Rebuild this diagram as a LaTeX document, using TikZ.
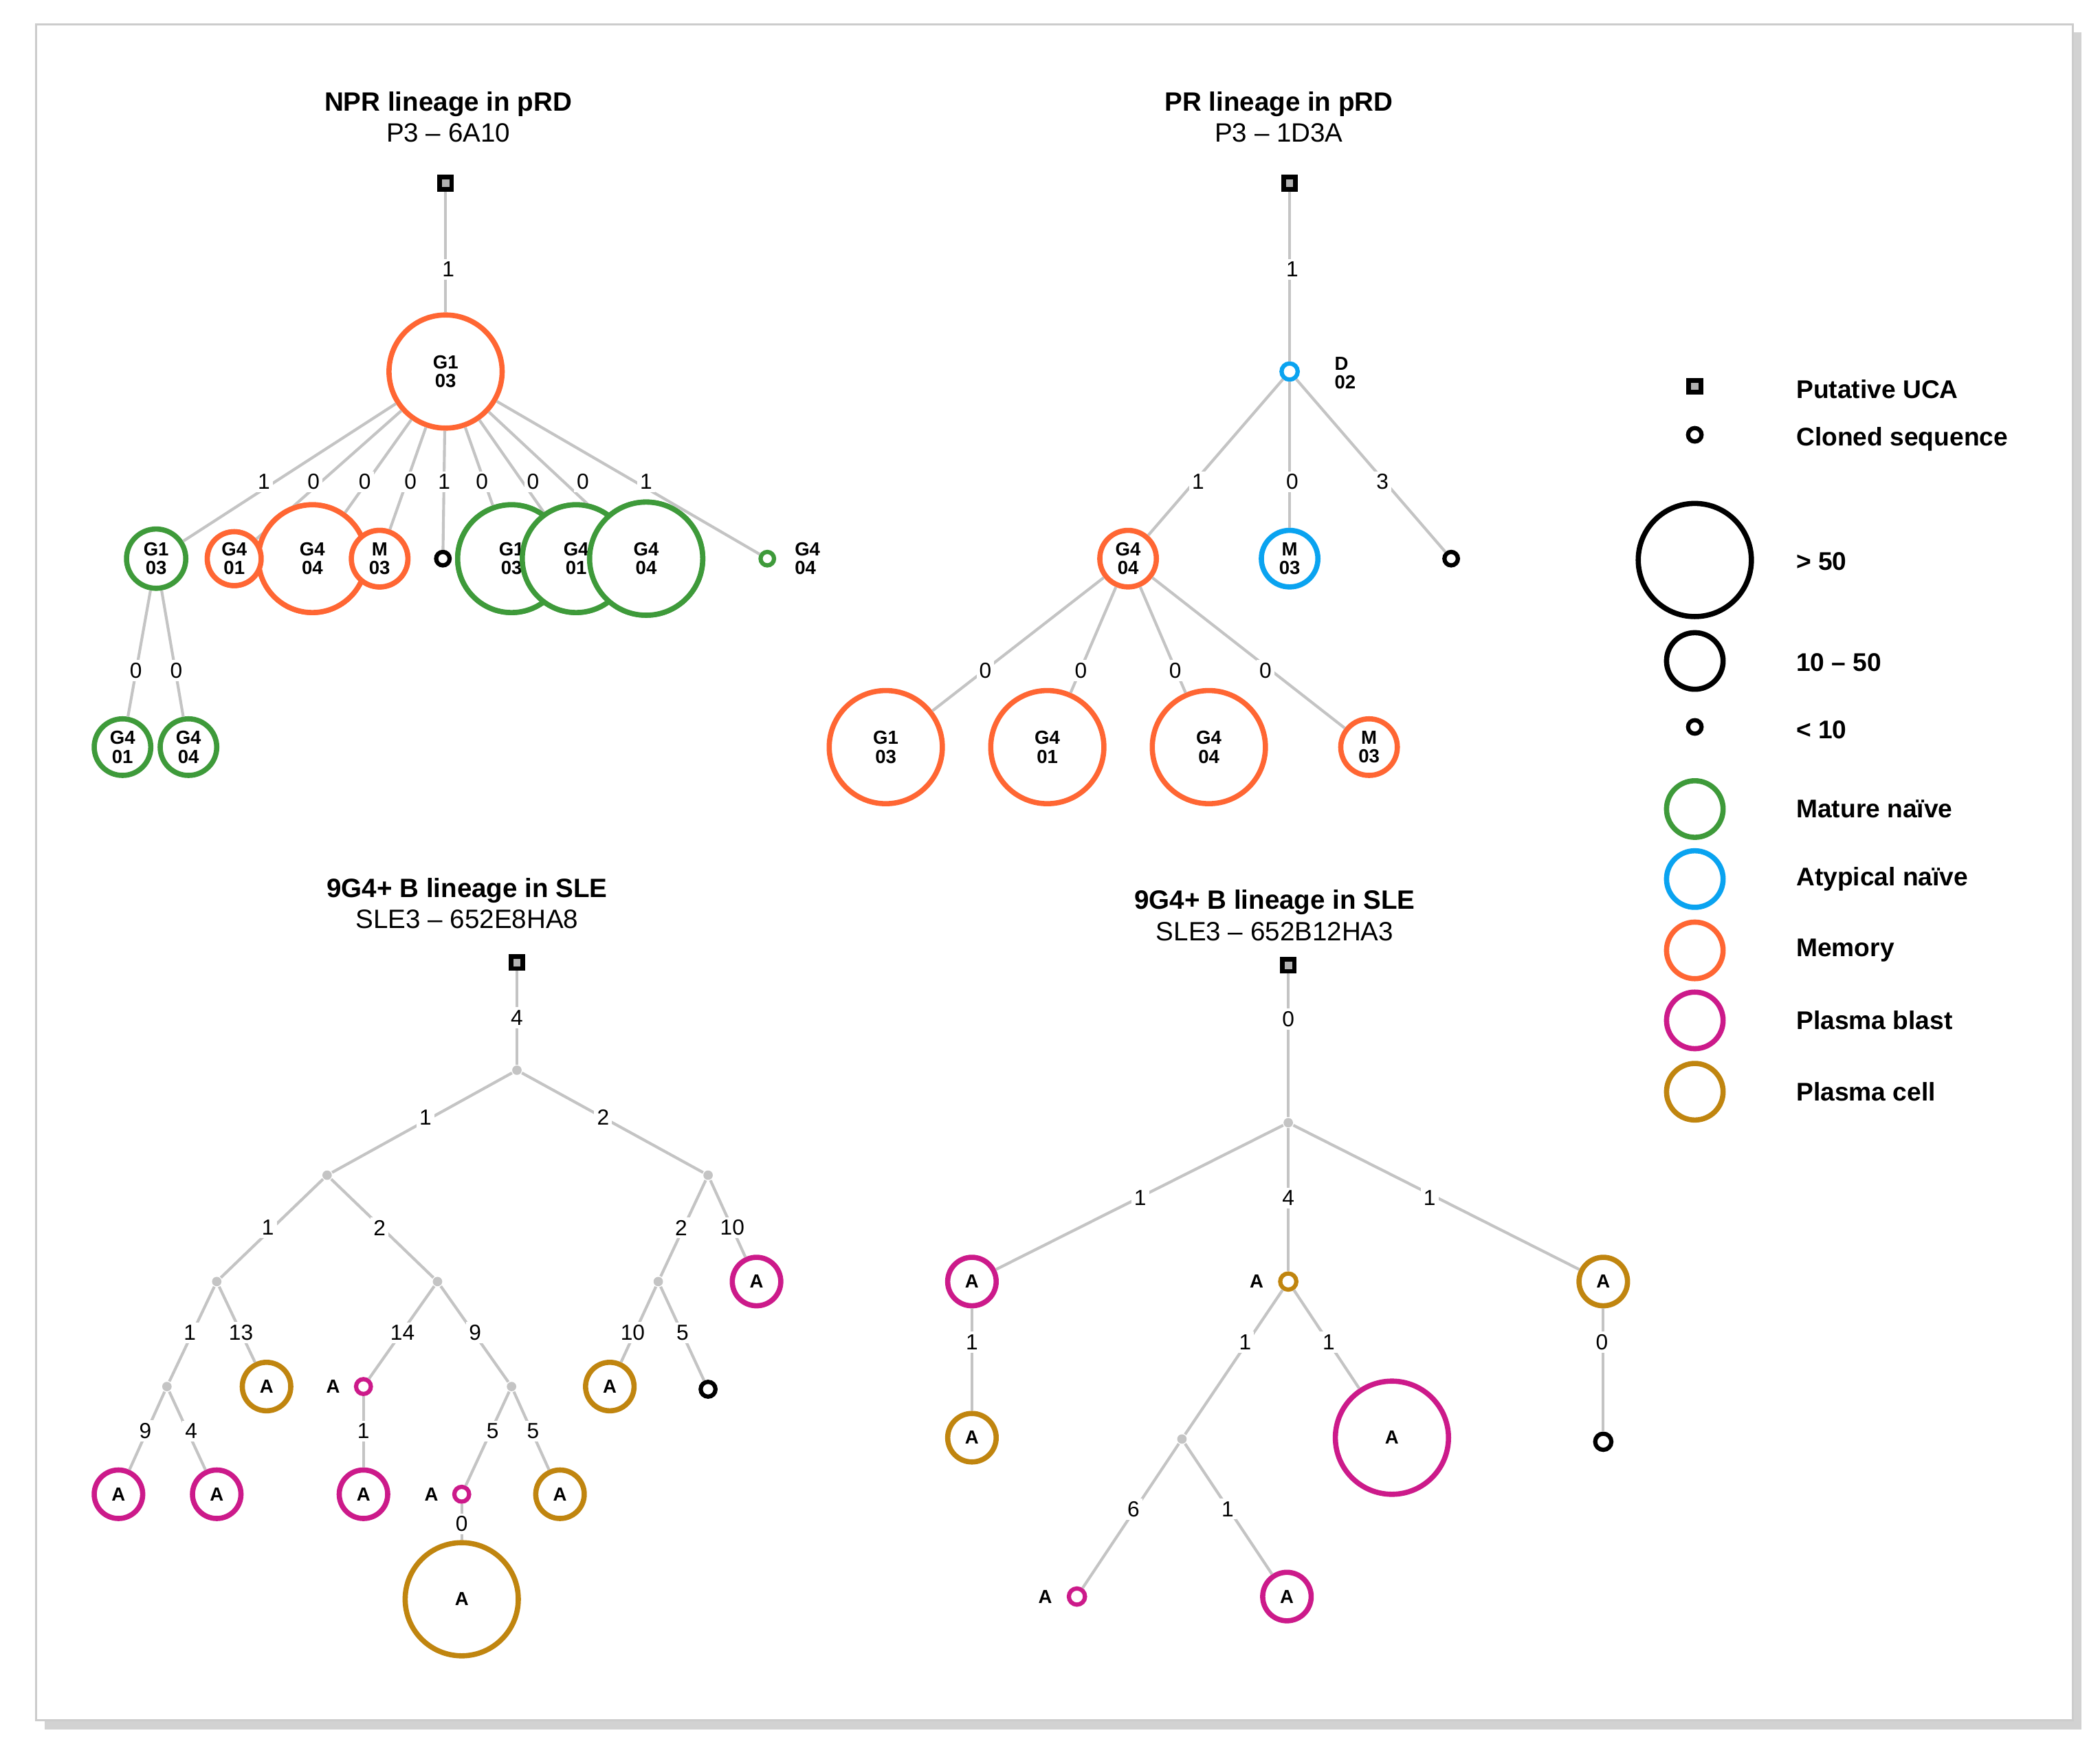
\documentclass[tikz,border=0pt]{standalone}
\usepackage{fontspec}
\setmainfont{Liberation Sans}
\begin{document}
\definecolor{cg}{HTML}{3E9A3A}
\definecolor{cb}{HTML}{0AA3F0}
\definecolor{co}{HTML}{FF6633}
\definecolor{cm}{HTML}{CC1A8A}
\definecolor{cy}{HTML}{C0850F}
\definecolor{ce}{HTML}{C4C4C4}
\begin{tikzpicture}[x=0.01cm,y=-0.01cm,
 cir/.style={circle,draw=#1,line width=1.1pt,fill=white,inner sep=0pt,align=center,font=\fontsize{4}{4}\selectfont\bfseries},
 sm/.style={circle,draw=#1,line width=0.9pt,fill=white,inner sep=0pt,minimum size=0.1cm},
 sq/.style={rectangle,draw=black,line width=1pt,fill=gray!60,inner sep=0pt,minimum size=0.09cm},
 jn/.style={circle,fill=ce,inner sep=0pt,minimum size=0.07cm},
 ed/.style={draw=ce,line width=0.6pt},
 el/.style={fill=white,inner sep=0.6pt,font=\fontsize{4.6}{5}\selectfont},
 ttl/.style={align=center,font=\fontsize{5.6}{6.6}\selectfont},
 lg/.style={anchor=west,font=\fontsize{5.4}{6}\selectfont\bfseries},
 sl/.style={font=\fontsize{4}{4}\selectfont\bfseries}]
\useasboundingbox (0,0) rectangle (1560,1297);
\fill[gray!35] (33,24) rectangle (1546,1285);
\fill[white,draw=gray!40] (27,18) rectangle (1540,1278);
% titles
\node[ttl] (t1) at (333,87) {\textbf{NPR lineage in pRD}\\P3 -- 6A10};
\node[ttl] (t2) at (950,87) {\textbf{PR lineage in pRD}\\P3 -- 1D3A};
\node[ttl] (t3) at (347,671) {\textbf{9G4+ B lineage in SLE}\\SLE3 -- 652E8HA8};
\node[ttl] (t4) at (947,680) {\textbf{9G4+ B lineage in SLE}\\SLE3 -- 652B12HA3};
% ---------- tree 1
\node[sq] (r1) at (331,136) {};
\node[cir=co,minimum size=0.84cm] (a0) at (331,276) {G1\\03};
\node[cir=cg,minimum size=0.44cm] (a1) at (116,415) {G1\\03};
\node[cir=co,minimum size=0.40cm] (a2) at (174,415) {G4\\01};
\node[cir=co,minimum size=0.80cm] (a3) at (232,415) {G4\\04};
\node[cir=co,minimum size=0.42cm] (a4) at (282,415) {M\\03};
\node[sm=black] (a5) at (329,415) {};
\node[cir=cg,minimum size=0.80cm] (a6) at (380,415) {G1\\03};
\node[cir=cg,minimum size=0.80cm] (a7) at (428,415) {G4\\01};
\node[cir=cg,minimum size=0.84cm] (a8) at (480,415) {G4\\04};
\node[sm=cg] (a9) at (570,415) {};
\node[sl,align=left,anchor=west] (a9l) at (578,415) {G4\\04};
\node[cir=cg,minimum size=0.42cm] (a10) at (91,555) {G4\\01};
\node[cir=cg,minimum size=0.42cm] (a11) at (140,555) {G4\\04};
\draw[ed] (r1)--(a0);
\foreach \n in {a1,a2,a3,a4,a5,a6,a7,a8,a9} \draw[ed] (a0)--(\n);
\draw[ed] (a1)--(a10); \draw[ed] (a1)--(a11);
% redraw circles over edges
\node[cir=co,minimum size=0.80cm] at (232,415) {G4\\04};
\node[cir=co,minimum size=0.42cm] at (282,415) {M\\03};
\node[cir=co,minimum size=0.40cm] at (174,415) {G4\\01};
\node[cir=cg,minimum size=0.80cm] at (380,415) {G1\\03};
\node[cir=cg,minimum size=0.80cm] at (428,415) {G4\\01};
\node[cir=cg,minimum size=0.84cm] at (480,415) {G4\\04};
\node[el] (l1) at (333,200) {1};
\foreach \x/\t in {196/1,233/0,271/0,305/0,330/1,358/0,396/0,433/0,480/1} \node[el] at (\x,358) {\t};
\node[el] at (101,498) {0}; \node[el] at (131,498) {0};
% ---------- tree 2
\node[sq] (r2) at (958,136) {};
\node[sm=cb,minimum size=0.12cm] (b0) at (958,276) {};
\node[sl,align=left,anchor=west] (b0l) at (979,277) {D\\02};
\node[cir=co,minimum size=0.42cm] (b1) at (838,415) {G4\\04};
\node[cir=cb,minimum size=0.42cm] (b2) at (958,415) {M\\03};
\node[sm=black] (b3) at (1078,415) {};
\node[cir=co,minimum size=0.84cm] (b4) at (658,555) {G1\\03};
\node[cir=co,minimum size=0.84cm] (b5) at (778,555) {G4\\01};
\node[cir=co,minimum size=0.84cm] (b6) at (898,555) {G4\\04};
\node[cir=co,minimum size=0.42cm] (b7) at (1017,555) {M\\03};
\draw[ed] (r2)--(b0);
\foreach \n in {b1,b2,b3} \draw[ed] (b0)--(\n);
\foreach \n in {b4,b5,b6,b7} \draw[ed] (b1)--(\n);
\node[el] at (960,200) {1};
\node[el] at (890,358) {1}; \node[el] at (960,358) {0}; \node[el] at (1027,358) {3};
\foreach \x in {732,803,873,940} \node[el] at (\x,498) {0};
% ---------- tree 3
\node[sq] (r3) at (384,715) {};
\node[jn] (c1) at (384,795) {};
\node[jn] (c2) at (243,873) {};
\node[jn] (c3) at (526,873) {};
\node[jn] (c4) at (161,952) {};
\node[jn] (c5) at (325,952) {};
\node[jn] (c6) at (124,1030) {};
\node[cir=cy,minimum size=0.36cm] (c7) at (198,1030) {A};
\node[cir=cm,minimum size=0.36cm] (c8) at (88,1110) {A};
\node[cir=cm,minimum size=0.36cm] (c9) at (161,1110) {A};
\node[sm=cm,minimum size=0.11cm] (c10) at (270,1030) {};
\node[sl,anchor=east] (c10l) at (265,1030) {A};
\node[jn] (c11) at (380,1030) {};
\node[cir=cm,minimum size=0.36cm] (c12) at (270,1110) {A};
\node[sm=cm,minimum size=0.11cm] (c13) at (343,1110) {};
\node[sl,anchor=east] (c13l) at (338,1110) {A};
\node[cir=cy,minimum size=0.36cm] (c14) at (416,1110) {A};
\node[cir=cy,minimum size=0.84cm] (c15) at (343,1188) {A};
\node[jn] (c16) at (489,952) {};
\node[cir=cm,minimum size=0.36cm] (c17) at (562,952) {A};
\node[cir=cy,minimum size=0.36cm] (c18) at (453,1030) {A};
\node[sm=black,minimum size=0.11cm] (c19) at (526,1032) {};
\draw[ed] (r3)--(c1); \draw[ed] (c1)--(c2); \draw[ed] (c1)--(c3);
\draw[ed] (c2)--(c4); \draw[ed] (c2)--(c5); \draw[ed] (c4)--(c6); \draw[ed] (c4)--(c7);
\draw[ed] (c6)--(c8); \draw[ed] (c6)--(c9); \draw[ed] (c5)--(c10); \draw[ed] (c5)--(c11);
\draw[ed] (c10)--(c12); \draw[ed] (c11)--(c13); \draw[ed] (c11)--(c14); \draw[ed] (c13)--(c15);
\draw[ed] (c3)--(c16); \draw[ed] (c3)--(c17); \draw[ed] (c16)--(c18); \draw[ed] (c16)--(c19);
\foreach \x/\y/\t in {384/756/4,316/830/1,448/830/2,199/912/1,282/912/2,141/990/1,179/990/13,108/1063/9,142/1063/4,299/990/14,353/990/9,270/1063/1,366/1063/5,396/1063/5,343/1132/0,506/912/2,544/912/10,470/990/10,507/990/5}
  \node[el] at (\x,\y) {\t};
% ---------- tree 4
\node[sq] (r4) at (957,717) {};
\node[jn] (d1) at (957,834) {};
\node[cir=cm,minimum size=0.36cm] (d2) at (722,952) {A};
\node[sm=cy,minimum size=0.12cm] (d3) at (957,952) {};
\node[sl,anchor=east] (d3l) at (951,952) {A};
\node[cir=cy,minimum size=0.36cm] (d4) at (1191,952) {A};
\node[cir=cy,minimum size=0.36cm] (d5) at (722,1068) {A};
\node[jn] (d6) at (878,1069) {};
\node[cir=cm,minimum size=0.84cm] (d7) at (1034,1068) {A};
\node[sm=cm,minimum size=0.12cm] (d8) at (800,1186) {};
\node[sl,anchor=east] (d8l) at (794,1186) {A};
\node[cir=cm,minimum size=0.36cm] (d9) at (956,1186) {A};
\node[sm=black,minimum size=0.12cm] (d10) at (1191,1071) {};
\draw[ed] (r4)--(d1); \draw[ed] (d1)--(d2); \draw[ed] (d1)--(d3); \draw[ed] (d1)--(d4);
\draw[ed] (d2)--(d5); \draw[ed] (d3)--(d6); \draw[ed] (d3)--(d7); \draw[ed] (d6)--(d8); \draw[ed] (d6)--(d9); \draw[ed] (d4)--(d10);
\foreach \x/\y/\t in {957/757/0,847/890/1,957/890/4,1062/890/1,722/997/1,925/997/1,987/997/1,842/1121/6,912/1121/1,1190/997/0}
  \node[el] at (\x,\y) {\t};
% ---------- legend
\node[sq] (g1) at (1259,287) {}; \node[lg] at (1322,289) {Putative UCA};
\node[sm=black] (g2) at (1259,323) {}; \node[lg] at (1322,326) {Cloned sequence};
\node[cir=black,minimum size=0.84cm] (g3) at (1259,416) {}; \node[lg] at (1322,417) {> 50};
\node[cir=black,minimum size=0.42cm] (g4) at (1259,491) {}; \node[lg] at (1322,492) {10 -- 50};
\node[sm=black] (g5) at (1259,540) {}; \node[lg] at (1322,542) {< 10};
\foreach \c/\y/\t in {cg/601/Mature naïve,cb/653/Atypical naïve,co/706/Memory,cm/758/Plasma blast,cy/811/Plasma cell}{
  \node[cir=\c,minimum size=0.42cm] at (1259,\y) {}; \node[lg] at (1322,\y) {\t};}
\end{tikzpicture}
\end{document}
